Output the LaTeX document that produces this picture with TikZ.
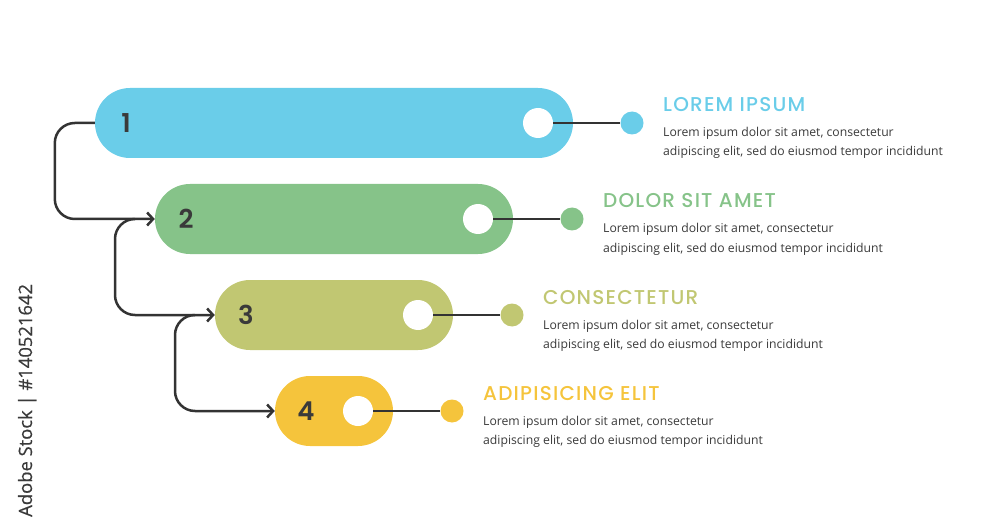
\documentclass[tikz,border=0pt]{standalone}
\usepackage{fontspec}
\setmainfont{Open Sans}
\newfontfamily\headfont{Poppins}[UprightFont=* Medium, LetterSpace=6]
\newfontfamily\numfont{Poppins}[UprightFont=* SemiBold]
\newfontfamily\stockfont{Open Sans}[FakeBold=0.6]
\usetikzlibrary{arrows.meta}
\definecolor{barblue}{HTML}{6ACDE9}
\definecolor{bargreen}{HTML}{86C389}
\definecolor{barolive}{HTML}{C1C772}
\definecolor{baryellow}{HTML}{F5C43C}
\definecolor{textgray}{HTML}{3A3A3A}
\definecolor{linegray}{HTML}{333333}
\tikzstyle{bar}=[rounded corners=35pt, minimum height=70pt, inner sep=0]
\tikzstyle{hole}=[circle, fill=white, minimum size=30pt, inner sep=0]
\tikzstyle{dotnode}=[circle, minimum size=23pt, inner sep=0]
\tikzstyle{numlabel}=[inner sep=0, text=textgray, font=\numfont\fontsize{26}{26}\selectfont]
\tikzstyle{headlabel}=[anchor=base west, inner sep=0, font=\headfont\fontsize{20}{20}\selectfont]
\tikzstyle{textlabel}=[anchor=base west, inner sep=0, text=textgray, font=\fontsize{12.2}{19}\selectfont]
\tikzstyle{stem}=[draw=linegray, line width=2.5pt]
\tikzstyle{link}=[draw=linegray, line width=2.5pt, rounded corners=20pt, -{Straight Barb[length=6pt,width=13pt]}]
\newcommand{\drawbars}{
  \node[bar, fill=barblue, minimum width=478pt] (B1) at (334,123) {};
  \node[bar, fill=bargreen, minimum width=358pt] (B2) at (334,219) {};
  \node[bar, fill=barolive, minimum width=238pt] (B3) at (334,315) {};
  \node[bar, fill=baryellow, minimum width=118pt] (B4) at (334,411) {};
  \node[numlabel] (N1) at (126,123) {1};
  \node[numlabel] (N2) at (186,219) {2};
  \node[numlabel] (N3) at (246,315) {3};
  \node[numlabel] (N4) at (306,411) {4};
  \node[hole] (H1) at (538,123) {};
  \node[hole] (H2) at (478,219) {};
  \node[hole] (H3) at (418,315) {};
  \node[hole] (H4) at (358,411) {};
  \node[dotnode, fill=barblue] (D1) at (632,123) {};
  \node[dotnode, fill=bargreen] (D2) at (572,219) {};
  \node[dotnode, fill=barolive] (D3) at (512,315) {};
  \node[dotnode, fill=baryellow] (D4) at (452,411) {};
  \draw[stem] (H1) -- (D1);
  \draw[stem] (H2) -- (D2);
  \draw[stem] (H3) -- (D3);
  \draw[stem] (H4) -- (D4);
}

\begin{document}
\begin{tikzpicture}[x=1pt, y=-1pt]
  \useasboundingbox (0,0) rectangle (1000,529);
  \drawbars
  % connectors between the bars
  \coordinate (J2) at (135,219);
  \coordinate (J3) at (195,315);
  \draw[link] (B1.west) -- ++(-40,0) |- (B2.west);
  \draw[link] (J2) -- ++(-20,0) |- (B3.west);
  \draw[link] (J3) -- ++(-20,0) |- (B4.west);
  % texts
  \node[headlabel, text=barblue] (T1) at (663,112) {LOREM IPSUM};
  \node[textlabel] (L1a) at (663,137) {Lorem ipsum dolor sit amet, consectetur};
  \node[textlabel] (L1b) at (663,156) {adipiscing elit, sed do eiusmod tempor incididunt};
  \node[headlabel, text=bargreen] (T2) at (603,208) {DOLOR SIT AMET};
  \node[textlabel] (L2a) at (603,233) {Lorem ipsum dolor sit amet, consectetur};
  \node[textlabel] (L2b) at (603,252) {adipiscing elit, sed do eiusmod tempor incididunt};
  \node[headlabel, text=barolive] (T3) at (543,304) {CONSECTETUR};
  \node[textlabel] (L3a) at (543,329) {Lorem ipsum dolor sit amet, consectetur};
  \node[textlabel] (L3b) at (543,348) {adipiscing elit, sed do eiusmod tempor incididunt};
  \node[headlabel, text=baryellow] (T4) at (483,400) {ADIPISICING ELIT};
  \node[textlabel] (L4a) at (483,425) {Lorem ipsum dolor sit amet, consectetur};
  \node[textlabel] (L4b) at (483,444) {adipiscing elit, sed do eiusmod tempor incididunt};
  \node[rotate=90, anchor=base west, inner sep=0, text=textgray, font=\stockfont\fontsize{18.4}{18.4}\selectfont] (S) at (32,517) {Adobe Stock | \#140521642};
\end{tikzpicture}
\end{document}
